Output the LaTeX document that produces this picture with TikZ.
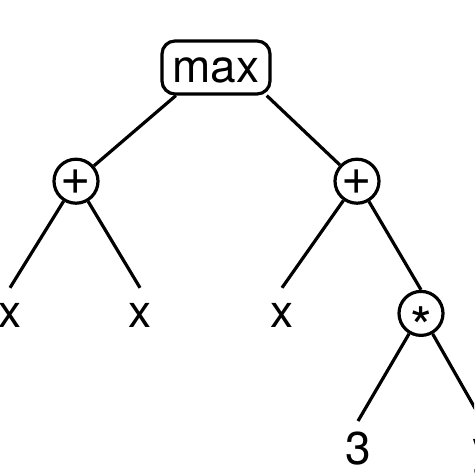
\documentclass[tikz,border=0pt]{standalone}
\usepackage{fontspec}
\setmainfont{TeX Gyre Heros}
\usetikzlibrary{positioning}

\begin{document}
\begin{tikzpicture}[
  font=\fontsize{23pt}{27pt}\selectfont,
  root/.style = {draw, line width=1.6pt, rounded corners=6.5pt, minimum width=54pt, minimum height=26.5pt, inner sep=0pt, text height=15pt},
  opnode/.style = {draw, circle, line width=1.6pt, minimum size=22pt, inner sep=0pt},
  leaf/.style = {minimum height=27pt, inner sep=0pt, text depth=0pt},
  link/.style = {line width=1.6pt}
  ]

% frame of the picture
\clip (0,0) rectangle (237pt,-237pt);

% Top layer: root
\node[root] (max) at (108pt,-33.75pt) {max};

% 2nd layer: operators
\node[opnode, below=31pt of max, xshift=-70pt] (plusl) {\fontsize{26pt}{30pt}\selectfont\raisebox{-6.6pt}[0pt][0pt]{+}};
\node[opnode, below=31pt of max, xshift=70.5pt] (plusr) {\fontsize{26pt}{30pt}\selectfont\raisebox{-6.6pt}[0pt][0pt]{+}};

% 3rd layer: leaves and product
\node[leaf, below=41.5pt of plusl, xshift=-33pt] (xa) {x};
\node[leaf, below=41.5pt of plusl, xshift=32pt] (xb) {x};
\node[leaf, below=41.5pt of plusr, xshift=-37.5pt] (xc) {x};
\node[opnode, below=42.5pt of plusr, xshift=32pt] (star) {\fontsize{28pt}{32pt}\selectfont\raisebox{-16.8pt}[0pt][0pt]{*}};

% Bottom layer
\node[leaf, below=42pt of star, xshift=-31.5pt] (three) {3};
\node[leaf, below=42pt of star, xshift=31.5pt, yshift=-1.5pt] (yy) {y};

% Draw links
\draw[link] (max.215) -- (plusl);
\draw[link] (max.-29) -- (plusr);

\draw[link] (plusl) -- (xa.north);
\draw[link] (plusl) -- (xb.north);
\draw[link] (plusr) -- (xc.north);
\draw[link] (plusr) -- (star.north);

\draw[link] (star) -- (three.north);
\draw[link] (star) -- (yy.north);
\end{tikzpicture}
\end{document}
